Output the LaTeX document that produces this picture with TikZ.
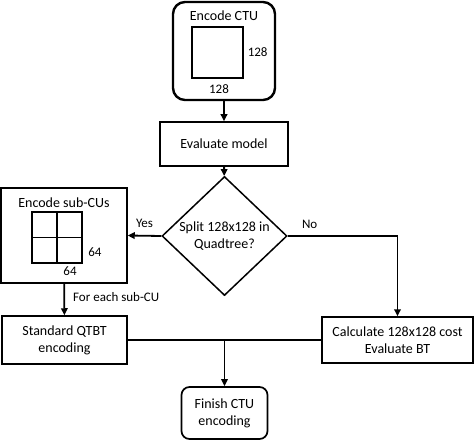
\documentclass[tikz,border=0pt]{standalone}
\usepackage{fontspec}
\setmainfont{Carlito}
\usetikzlibrary{shapes.geometric,arrows.meta,positioning}
\begin{document}
\begin{tikzpicture}[
      x = 1pt, y = -1pt,
      font = \fontsize{14}{17}\selectfont,
      box/.style = {
        rectangle,
        draw = black, line width = 1.5pt,
        align = center,
        inner sep = 0pt,
      },
      bubble/.style = {
        box,
        rounded corners = 8pt,
      },
      decision/.style = {
        diamond,
        draw = black, line width = 1.5pt,
        align = center,
        inner sep = 0pt,
        minimum width = 125pt,
        minimum height = 94pt,
      },
      cubox/.style = {
        rectangle,
        draw = black, line width = 1.1pt,
        inner sep = 0pt,
      },
      tag/.style = {
        inner sep = 0pt,
        font = \fontsize{13}{15}\selectfont,
      }
    ]
    \useasboundingbox (0,0) rectangle (474,441);

    \node[bubble, line width = 2.4pt, rounded corners = 12pt,
      minimum width = 102pt, minimum height = 98pt] (ctu) at (224,51) {};
    \node (ctutitle) at (224,16) {Encode CTU};
    \node[cubox, minimum width = 51pt, minimum height = 51pt] (ctusq) at (217.5,52.5) {};
    \node[tag, right = 4pt of ctusq] (ctuw) {128};
    \node[tag, below = 6pt of ctusq, xshift = 1.5pt] (ctuh) {128};

    \node[box, minimum width = 128pt, minimum height = 44pt] (eval) at (224,144) {Evaluate model};
    \node[decision] (split) at (224.5,236) {Split 128x128 in\\Quadtree?};

    \node[box, minimum width = 126pt, minimum height = 95pt] (sub) at (64,235.5) {};
    \node (subtitle) at (64,203) {Encode sub-CUs};
    \node[cubox, minimum width = 50pt, minimum height = 51pt] (subsq) at (57,237.5) {};
    \draw[line width = 1.1pt] (subsq.north) -- (subsq.south) (subsq.west) -- (subsq.east);
    \node[tag, above right = 7pt and 5.5pt of subsq.south east] (subw) {64};
    \node[tag, below = 3pt of subsq.south, xshift = 13pt] (subh) {64};

    \node[box, minimum width = 125pt, minimum height = 48pt] (qtbt) at (64.5,340) {Standard QTBT\\encoding};
    \node[box, minimum width = 151pt, minimum height = 46pt] (calc) at (397.5,340) {Calculate 128x128 cost\\Evaluate BT};
    \node[bubble, line width = 1.7pt, minimum width = 86pt, minimum height = 52pt] (fin) at (224.5,413) {Finish CTU\\encoding};

    \coordinate (join) at (qtbt.east -| fin.north);

    \begin{scope}[line width = 1.8pt, -{Triangle[length = 7pt, width = 6.5pt]}]
      \draw (ctu) -- (eval);
      \draw (eval) -- (split);
      \draw (split.west) -- node[tag, above = 7pt] {Yes} (sub.east);
      \draw (split.east) -| node[tag, pos = 0.1, above = 7pt] {No} (calc.north);
      \draw (sub) -- node[tag, pos = 0.43, right = 8pt] {For each sub-CU} (qtbt);
      \draw (join) -- (fin);
    \end{scope}

    \draw[line width = 1.6pt] (qtbt.east) -- (calc.west);

  \end{tikzpicture}
\end{document}
